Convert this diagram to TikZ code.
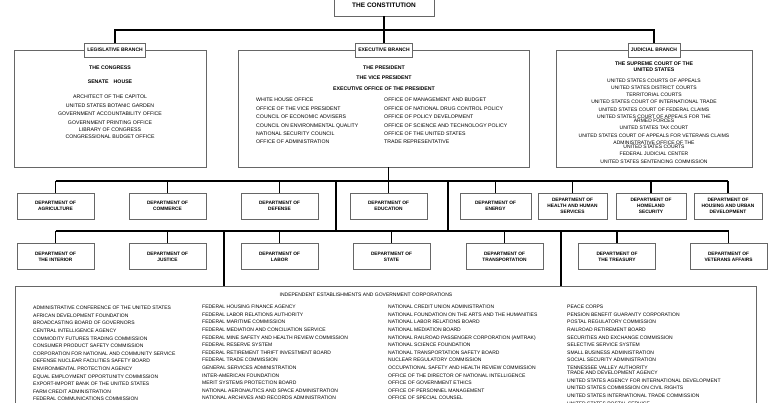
\documentclass[tikz,border=0pt]{standalone}
\usepackage{fontspec}
\setmainfont{Liberation Sans}
\begin{document}
\begin{tikzpicture}[x=1pt,y=-1pt,
    bus/.style={line width=1.4pt},
    frame/.style={draw=black!60, line width=0.5pt, inner sep=0pt},
    tag/.style={draw=black!60, fill=white, line width=0.5pt, minimum height=14pt, inner sep=3pt, font=\fontsize{5}{6}\selectfont\bfseries},
    dept/.style={draw=black!60, line width=0.5pt, minimum height=26pt, minimum width=77pt, inner sep=1pt, align=center, font=\fontsize{4.8}{6.3}\selectfont\bfseries},
    txt/.style={inner sep=0pt, align=center, font=\fontsize{5.2}{8.4}\selectfont},
    head/.style={txt, font=\fontsize{5.2}{6}\selectfont\bfseries},
    list/.style={inner sep=0pt, align=left, anchor=north west, font=\fontsize{5}{7.6}\selectfont}]
    \useasboundingbox (0,0) rectangle (768,403);
    \clip (0,0) rectangle (768,403);

    % the constitution and the three branches
    \node[frame, minimum width=100pt, minimum height=22pt, font=\fontsize{6.5}{7}\selectfont\bfseries] (con) at (384,5) {THE CONSTITUTION};
    \node[frame, minimum width=192pt, minimum height=117pt, anchor=north west] (leg) at (14,50) {};
    \node[frame, minimum width=291pt, minimum height=117pt, anchor=north west] (exe) at (238,50) {};
    \node[frame, minimum width=196pt, minimum height=117pt, anchor=north west] (jud) at (556,50) {};
    \node[tag] (leglab) at (115,50) {LEGISLATIVE BRANCH};
    \node[tag] (exelab) at (384,50) {EXECUTIVE BRANCH};
    \node[tag] (judlab) at (654,50) {JUDICIAL BRANCH};
    \coordinate (top) at (384,30);
    \draw[bus] (con.south) -- (top);
    \draw[bus] (leglab.north) |- (top) -| (judlab.north);
    \draw[bus] (top) -- (exelab.north);

    % legislative
    \node[head, anchor=north] (congress) at (110,66) {THE CONGRESS};
    \node[head, anchor=north] (houses) at (110,80) {SENATE\quad HOUSE};
    \node[txt, anchor=north] (legtext) at (110,95) {ARCHITECT OF THE CAPITOL\\UNITED STATES BOTANIC GARDEN\\GOVERNMENT ACCOUNTABILITY OFFICE\\GOVERNMENT PRINTING OFFICE\\[-1.4pt]LIBRARY OF CONGRESS\\[-1.4pt]CONGRESSIONAL BUDGET OFFICE};

    % executive
    \node[head, anchor=north] (pres) at (384,66) {THE PRESIDENT};
    \node[head, anchor=north] (vice) at (384,76) {THE VICE PRESIDENT};
    \node[head, anchor=north] (eop) at (384,87) {EXECUTIVE OFFICE OF THE PRESIDENT};
    \node[list, font=\fontsize{5.2}{8.4}\selectfont] (eopl) at (256,98) {WHITE HOUSE OFFICE\\OFFICE OF THE VICE PRESIDENT\\COUNCIL OF ECONOMIC ADVISERS\\COUNCIL ON ENVIRONMENTAL QUALITY\\NATIONAL SECURITY COUNCIL\\OFFICE OF ADMINISTRATION};
    \node[list, font=\fontsize{5.2}{8.4}\selectfont] (eopr) at (384,98) {OFFICE OF MANAGEMENT AND BUDGET\\OFFICE OF NATIONAL DRUG CONTROL POLICY\\OFFICE OF POLICY DEVELOPMENT\\OFFICE OF SCIENCE AND TECHNOLOGY POLICY\\OFFICE OF THE UNITED STATES\\TRADE REPRESENTATIVE};

    % judicial
    \node[head, anchor=north, align=center, font=\fontsize{5.2}{5.4}\selectfont\bfseries] (sup) at (654,62) {THE SUPREME COURT OF THE\\UNITED STATES};
    \node[txt, anchor=north, font=\fontsize{5}{7.1}\selectfont] (judtext) at (654,79) {UNITED STATES COURTS OF APPEALS\\UNITED STATES DISTRICT COURTS\\TERRITORIAL COURTS\\UNITED STATES\ COURT OF INTERNATIONAL\ TRADE\\UNITED STATES\ COURT OF FEDERAL CLAIMS\\UNITED STATES\ COURT OF APPEALS FOR THE\\[-2.4pt]ARMED FORCES\\UNITED STATES TAX COURT\\UNITED STATES\ COURT OF APPEALS FOR VETERANS CLAIMS\\ADMINISTRATIVE OFFICE OF THE\\[-2.4pt]UNITED STATES COURTS\\FEDERAL JUDICIAL CENTER\\UNITED STATES SENTENCING COMMISSION};

    % departments, first row
    \node[dept] (agr) at (55.5,206) {DEPARTMENT OF\\AGRICULTURE};
    \node[dept] (com) at (167.5,206) {DEPARTMENT OF\\COMMERCE};
    \node[dept] (def) at (279.5,206) {DEPARTMENT OF\\DEFENSE};
    \node[dept] (edu) at (388.5,206) {DEPARTMENT OF\\EDUCATION};
    \node[dept, minimum width=71pt] (ene) at (495.5,206) {DEPARTMENT OF\\ENERGY};
    \node[dept, minimum width=69pt] (hhs) at (572.5,206) {DEPARTMENT OF\\HEALTH AND HUMAN\\SERVICES};
    \node[dept, minimum width=70pt] (hom) at (651,206) {DEPARTMENT OF\\HOMELAND\\SECURITY};
    \node[dept, minimum width=68pt] (hud) at (728,206) {DEPARTMENT OF\\HOUSING AND URBAN\\DEVELOPMENT};
    \coordinate (r1) at (0,181);
    \draw[bus] (exe.south -| edu) -- (edu.north);
    \draw[bus] (agr.north |- r1) -- (hud.north |- r1);
    \foreach \d in {agr,com,def,ene,hhs,hom,hud}
        \draw[bus] (\d.north) -- (\d.north |- r1);

    % departments, second row
    \node[dept] (int) at (55.5,256.5) {DEPARTMENT OF\\THE INTERIOR};
    \node[dept] (jus) at (167.5,256.5) {DEPARTMENT OF\\JUSTICE};
    \node[dept] (lab) at (279.5,256.5) {DEPARTMENT OF\\LABOR};
    \node[dept] (sta) at (391.5,256.5) {DEPARTMENT OF\\STATE};
    \node[dept] (tra) at (504.5,256.5) {DEPARTMENT OF\\TRANSPORTATION};
    \node[dept] (tre) at (617,256.5) {DEPARTMENT OF\\THE TREASURY};
    \node[dept] (vet) at (728.5,256.5) {DEPARTMENT OF\\VETERANS AFFAIRS};
    \coordinate (r2) at (0,231);
    \draw[bus] (336,181) -- (336,231);
    \draw[bus] (448,181) -- (448,231);
    \draw[bus] (int.north |- r2) -- (vet.north |- r2);
    \foreach \d in {int,jus,lab,sta,tra,tre,vet}
        \draw[bus] (\d.north) -- (\d.north |- r2);

    % independent establishments
    \node[frame, minimum width=741pt, minimum height=140pt, anchor=north west] (ind) at (15,286) {};
    \draw[bus] (224,231) -- (224,286);
    \draw[bus] (561,231) -- (561,286);
    \node[txt, anchor=north, font=\fontsize{5}{6}\selectfont] (indlab) at (366,293) {INDEPENDENT ESTABLISHMENTS AND GOVERNMENT CORPORATIONS};
    \node[list] (ind1) at (33,306) {ADMINISTRATIVE CONFERENCE OF THE UNITED STATES\\AFRICAN DEVELOPMENT FOUNDATION\\BROADCASTING BOARD OF GOVERNORS\\CENTRAL INTELLIGENCE\ AGENCY\\COMMODITY FUTURES TRADING COMMISSION\\CONSUMER PRODUCT SAFETY COMMISSION\\CORPORATION FOR NATIONAL\ AND COMMUNITY SERVICE\\DEFENSE NUCLEAR FACILITIES SAFETY BOARD\\ENVIRONMENTAL PROTECTION AGENCY\\EQUAL EMPLOYMENT OPPORTUNITY COMMISSION\\EXPORT-IMPORT BANK OF THE UNITED STATES\\FARM CREDIT ADMINISTRATION\\FEDERAL COMMUNICATIONS COMMISSION\\FEDERAL DEPOSIT INSURANCE CORPORATION};
    \node[list] (ind2) at (202,305) {FEDERAL HOUSING FINANCE AGENCY\\FEDERAL LABOR RELATIONS AUTHORITY\\FEDERAL MARITIME COMMISSION\\FEDERAL MEDIATION AND CONCILIATION SERVICE\\FEDERAL MINE SAFETY AND HEALTH REVIEW COMMISSION\\FEDERAL RESERVE SYSTEM\\FEDERAL RETIREMENT THRIFT INVESTMENT BOARD\\FEDERAL TRADE COMMISSION\\GENERAL SERVICES ADMINISTRATION\\INTER-AMERICAN FOUNDATION\\MERIT SYSTEMS PROTECTION BOARD\\NATIONAL AERONAUTICS AND SPACE ADMINISTRATION\\NATIONAL ARCHIVES AND RECORDS ADMINISTRATION};
    \node[list] (ind3) at (388,305) {NATIONAL CREDIT UNION ADMINISTRATION\\NATIONAL FOUNDATION\ ON THE ARTS AND THE HUMANITIES\\NATIONAL LABOR RELATIONS BOARD\\NATIONAL MEDIATION BOARD\\NATIONAL RAILROAD PASSENGER CORPORATION (AMTRAK)\\NATIONAL SCIENCE FOUNDATION\\NATIONAL TRANSPORTATION SAFETY BOARD\\NUCLEAR REGULATORY COMMISSION\\OCCUPATIONAL\ SAFETY AND HEALTH REVIEW COMMISSION\\OFFICE OF THE DIRECTOR OF NATIONAL INTELLIGENCE\\OFFICE OF GOVERNMENT ETHICS\\OFFICE OF PERSONNEL MANAGEMENT\\OFFICE OF SPECIAL COUNSEL\\OVERSEAS PRIVATE INVESTMENT CORPORATION};
    \node[list] (ind4) at (567,305) {PEACE CORPS\\PENSION BENEFIT GUARANTY CORPORATION\\POSTAL REGULATORY COMMISSION\\RAILROAD RETIREMENT BOARD\\SECURITIES AND EXCHANGE COMMISSION\\SELECTIVE SERVICE SYSTEM\\SMALL BUSINESS ADMINISTRATION\\SOCIAL SECURITY ADMINISTRATION\\TENNESSEE VALLEY AUTHORITY\\[-2.4pt]TRADE AND DEVELOPMENT AGENCY\\UNITED STATES\ AGENCY FOR INTERNATIONAL\ DEVELOPMENT\\UNITED STATES COMMISSION ON CIVIL RIGHTS\\UNITED STATES INTERNATIONAL TRADE COMMISSION\\UNITED STATES POSTAL SERVICE};
\end{tikzpicture}
\end{document}
